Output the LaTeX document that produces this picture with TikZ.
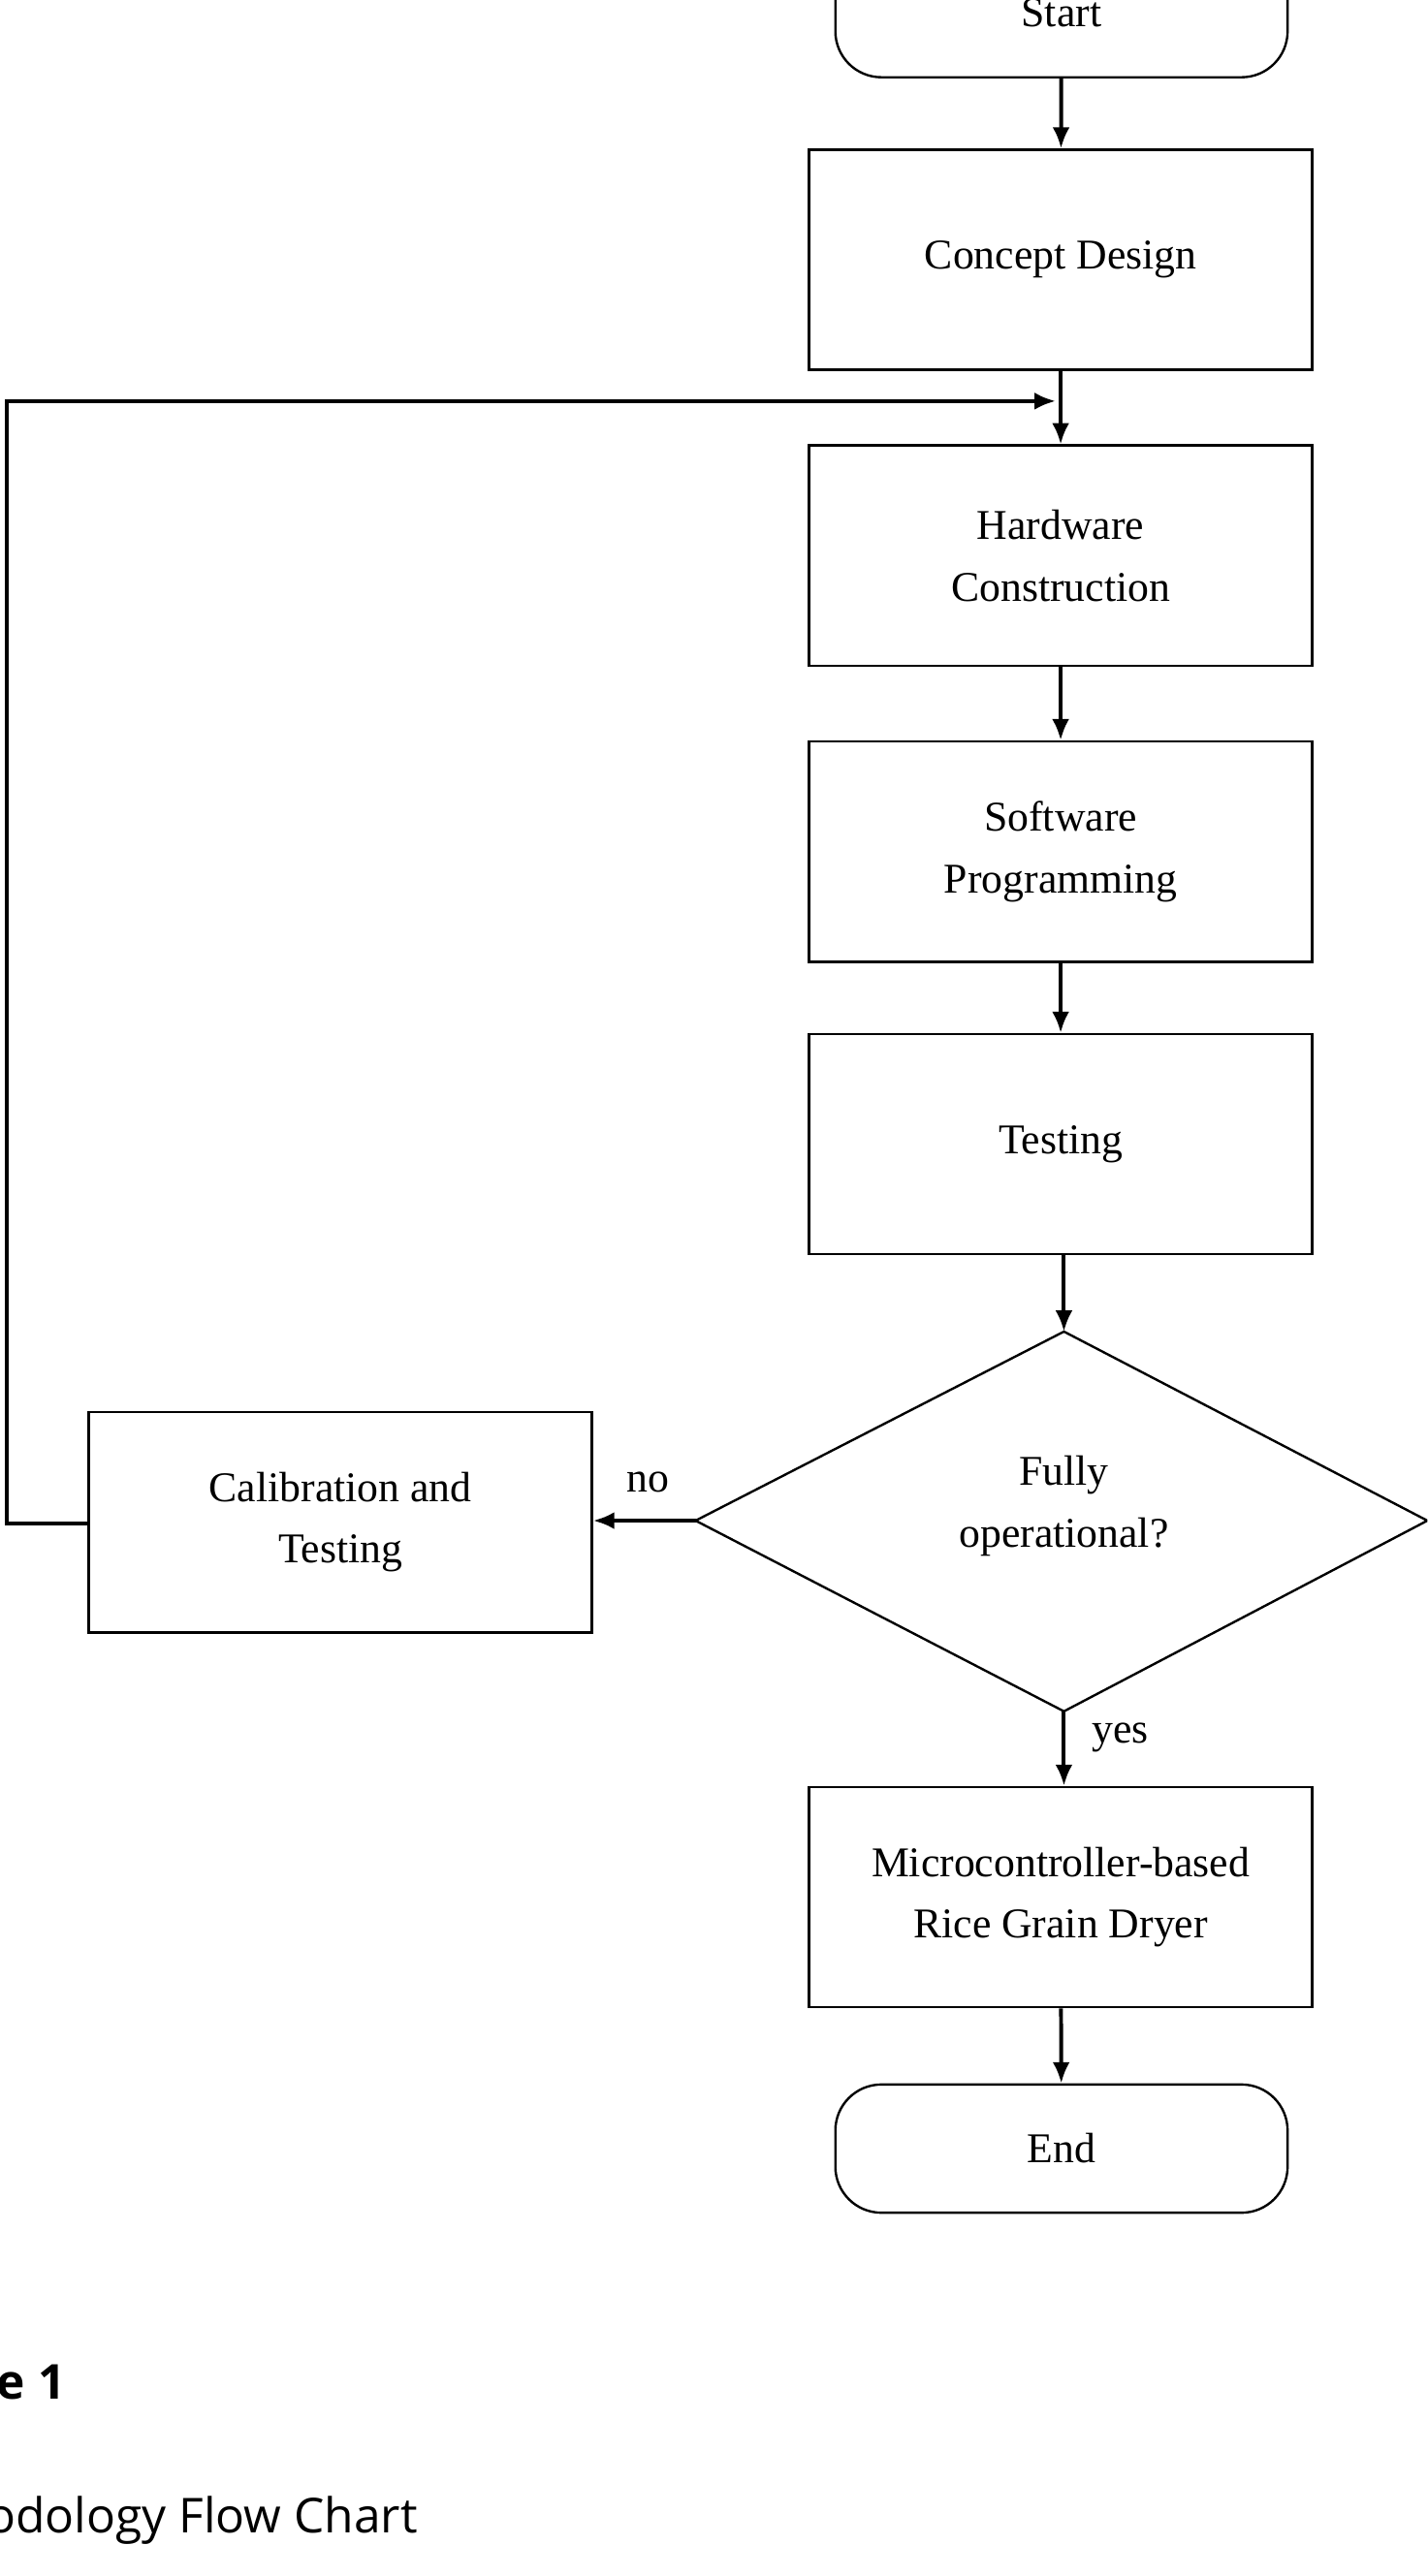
\documentclass[tikz,border=0pt]{standalone}
\usepackage{fontspec}
\setmainfont{Liberation Serif}
\newfontfamily\capfont{Open Sans}
\usetikzlibrary{shapes.geometric,arrows.meta}
\begin{document}
\begin{tikzpicture}[x=0.03cm,y=-0.03cm,
  box/.style={draw,line width=1.2pt,minimum width=306*0.03cm,minimum height=134*0.03cm,align=center,font=\fontsize{22}{32}\selectfont},
  term/.style={draw,line width=1.2pt,rounded corners=28*0.03cm,minimum width=275*0.03cm,minimum height=78*0.03cm,font=\fontsize{22}{32}\selectfont},
  arr/.style={line width=2pt,-{Latex[length=11pt,width=9pt]}},
  lab/.style={font=\fontsize{22}{32}\selectfont}]
\useasboundingbox (0,0) rectangle (868,1567);
\begin{scope}
\clip (0,0) rectangle (868,1567);
\node[term] (start) at (645.5,8) {Start};
\node[box] (concept) at (645,158) {\raisebox{4pt}{Concept Design}};
\node[box] (hw) at (645,338) {Hardware\\Construction};
\node[box] (sw) at (645,518) {Software\\Programming};
\node[box] (test) at (645,696) {\raisebox{4pt}{Testing}};
\draw[line width=1.2pt] (423,925) -- (647,810) -- (868,925) -- (647,1041) -- cycle;
\node[lab,align=center] (dectext) at (647,916) {Fully\\operational?};
\coordinate (dl) at (423,925);
\coordinate (dt) at (647,810);
\coordinate (db) at (647,1041);
\node[box] (cal) at (207,926) {Calibration and\\Testing};
\node[box] (mc) at (645,1154) {Microcontroller-based\\Rice Grain Dryer};
\node[term] (endn) at (645.5,1307) {End};
\draw[arr] (start) -- (concept);
\draw[arr] (concept) -- (hw);
\draw[arr] (hw) -- (sw);
\draw[arr] (sw) -- (test);
\draw[arr] (test.south -| dt) -- (dt);
\draw[arr] (dl) -- (cal.east |- dl);
\draw[arr] (db) -- (mc.north -| db);
\draw[arr] (mc) -- (endn);
\coordinate (fb) at (642,244);
\draw[arr] (cal.west |- 0,927) -- (4,927) -- (4,244) -- (fb);
\node[lab,anchor=south] at (394,912) {no};
\node[lab,anchor=west] at (660,1057) {yes};
\node[font=\capfont\bfseries\fontsize{25}{30}\selectfont,anchor=east] (fig) at (44,1452) {Figure 1};
\node[font=\capfont\fontsize{25}{30}\selectfont,anchor=east] (cap) at (258,1533) {Methodology Flow Chart};
\end{scope}
\end{tikzpicture}
\end{document}
